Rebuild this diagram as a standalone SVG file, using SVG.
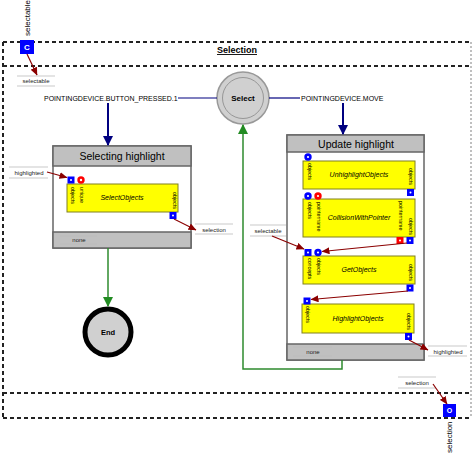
<svg xmlns="http://www.w3.org/2000/svg" width="474" height="454" viewBox="0 0 474 454">
<style>
text{font-family:"Liberation Sans",Arial,sans-serif;fill:#000}
.dash{stroke:#222;stroke-width:2;stroke-dasharray:4 3;fill:none}
.box{fill:#fff;stroke:#666;stroke-width:1.5}
.hdr{fill:#c0c0c0;stroke:#666;stroke-width:1.5}
.title{font-size:10.5px;text-anchor:middle}
.act{fill:#ffff00;stroke:#808020;stroke-width:1}
.actn{font-size:7px;font-style:italic;text-anchor:middle}
.pt{font-size:5.3px}
.lbl{font-size:6px;text-anchor:middle;fill:#222}
.ll{stroke:#bbb;stroke-width:0.8}
.bp{fill:#0000ff}
.rp{fill:#ff0000}
.dot{fill:#fff}
.navy{stroke:#000080;stroke-width:1.2;fill:none}
.navyA{stroke:#000080;stroke-width:2;fill:none}
.red{stroke:#8b0000;stroke-width:1.2;fill:none}
.green{stroke:#2e8b2e;stroke-width:1.5;fill:none}
</style>
<defs>
<marker id="mN" markerWidth="10" markerHeight="10" refX="9" refY="5" orient="auto" markerUnits="userSpaceOnUse"><path d="M0,0 L10,5 L0,10 z" fill="#000080"/></marker>
<marker id="mR" markerWidth="8" markerHeight="7" refX="7.5" refY="3.5" orient="auto" markerUnits="userSpaceOnUse"><path d="M0,0 L8,3.5 L0,7 z" fill="#8b0000"/></marker>
<marker id="mG" markerWidth="10" markerHeight="10" refX="9" refY="5" orient="auto" markerUnits="userSpaceOnUse"><path d="M0,0 L10,5 L0,10 z" fill="#228b22"/></marker>
</defs>

<g id="container">
<path class="dash" d="M3,42 H471 M3,66 H471 M3,393 H471 M3,418 H471 M3,42 V418"/>
<path d="M471,42 V418" stroke="#aaa" stroke-width="1.5" stroke-dasharray="2 2" fill="none"/>
<text x="237" y="53" font-size="9" font-weight="bold" text-anchor="middle" text-decoration="underline">Selection</text>
</g>

<g id="port-in">
<rect class="bp" x="20" y="40" width="14" height="14"/>
<text x="27" y="50" font-size="8" font-weight="bold" text-anchor="middle" style="fill:#fff">C</text>
<text transform="translate(30,36) rotate(-90)" font-size="8">selectable</text>
</g>

<g id="port-out">
<rect class="bp" x="443" y="404" width="13" height="13"/>
<text x="449.5" y="413" font-size="7" font-weight="bold" text-anchor="middle" style="fill:#fff">O</text>
<text transform="translate(452,453) rotate(-90)" font-size="8">selection</text>
</g>

<g id="select">
<circle cx="243" cy="98" r="26" fill="#d0d0d0" stroke="#999" stroke-width="1.5"/>
<circle cx="243" cy="98" r="20.5" fill="none" stroke="#888" stroke-width="0.8"/>
<text x="243" y="101" font-size="8" font-weight="bold" text-anchor="middle">Select</text>
</g>

<g id="end">
<circle cx="108" cy="332" r="23" fill="#d0d0d0" stroke="#000" stroke-width="5"/>
<text x="108" y="335" font-size="7.5" font-weight="bold" text-anchor="middle">End</text>
</g>

<g id="selecting-highlight">
<rect class="box" x="53" y="146" width="138" height="102"/>
<rect class="hdr" x="53" y="146" width="138" height="20"/>
<rect class="hdr" x="53" y="232" width="138" height="16"/>
<text class="title" x="122" y="160">Selecting highlight</text>
<line class="ll" x1="60" y1="236" x2="97" y2="236"/>
<line class="ll" x1="60" y1="244" x2="97" y2="244"/>
<text class="lbl" x="79" y="242">none</text>
<g id="SelectObjects">
<rect class="act" x="67" y="184" width="111" height="28"/>
<text class="actn" x="122" y="200">SelectObjects</text>
<text class="pt" transform="translate(70.5,187) rotate(90)">objects</text>
<text class="pt" transform="translate(79.5,187) rotate(90)">unique</text>
<text class="pt" transform="translate(172.5,192) rotate(90)">objects</text>
<rect class="bp" x="67.5" y="176.5" width="7" height="7"/><circle class="dot" cx="71" cy="180" r="1"/>
<circle class="rp" cx="81" cy="180" r="3.7"/><circle class="dot" cx="81" cy="180" r="1.2"/>
<rect class="bp" x="169.5" y="212" width="7" height="7"/><circle class="dot" cx="173" cy="215.5" r="1"/>
</g>
</g>

<g id="update-highlight">
<rect class="box" x="287" y="135" width="137" height="225"/>
<rect class="hdr" x="287" y="135" width="137" height="17"/>
<rect class="hdr" x="287" y="344" width="137" height="16"/>
<text class="title" x="356" y="147.5">Update highlight</text>
<line class="ll" x1="293" y1="347" x2="332" y2="347"/>
<line class="ll" x1="293" y1="356" x2="332" y2="356"/>
<text class="lbl" x="313" y="354">none</text>
<g id="UnhighlightObjects">
<rect class="act" x="303" y="161" width="112" height="28"/>
<text class="actn" x="359" y="177">UnhighlightObjects</text>
<text class="pt" transform="translate(307.5,163) rotate(90)">objects</text>
<text class="pt" transform="translate(408.5,168) rotate(90)">objects</text>
<circle class="bp" cx="308" cy="157" r="3.7"/><circle class="dot" cx="308" cy="157" r="1.1"/>
<rect class="bp" x="407" y="189" width="7" height="7"/><circle class="dot" cx="410.5" cy="192.5" r="1"/>
</g>
<g id="CollisionWithPointer">
<rect class="act" x="303" y="199" width="112" height="38"/>
<text class="actn" x="359" y="220">CollisionWithPointer</text>
<text class="pt" transform="translate(307.5,202) rotate(90)">objects</text>
<text class="pt" transform="translate(316.5,202) rotate(90)">pointername</text>
<text class="pt" transform="translate(398.5,201) rotate(90)">pointername</text>
<text class="pt" transform="translate(408.5,218) rotate(90)">objects</text>
<circle class="bp" cx="308" cy="196" r="3.7"/><circle class="dot" cx="308" cy="196" r="1.1"/>
<circle class="rp" cx="318" cy="196" r="3.7"/><circle class="dot" cx="318" cy="196" r="1.1"/>
<rect class="rp" x="396.5" y="237" width="7" height="7"/><circle class="dot" cx="400" cy="240.5" r="1"/>
<rect class="bp" x="406.5" y="237" width="7" height="7"/><circle class="dot" cx="410" cy="240.5" r="1"/>
</g>
<g id="GetObjects">
<rect class="act" x="303" y="256" width="112" height="28"/>
<text class="actn" x="359" y="272">GetObjects</text>
<text class="pt" transform="translate(307.5,258) rotate(90)">concepts</text>
<text class="pt" transform="translate(316.5,258) rotate(90)">objects</text>
<text class="pt" transform="translate(408.5,264) rotate(90)">objects</text>
<rect class="bp" x="304.5" y="249" width="7" height="7"/><circle class="dot" cx="308" cy="252.5" r="1"/>
<circle class="bp" cx="318" cy="252.5" r="3.7"/><circle class="dot" cx="318" cy="252.5" r="1.1"/>
<rect class="bp" x="406.5" y="284.5" width="7" height="7"/><circle class="dot" cx="410" cy="288" r="1"/>
</g>
<g id="HighlightObjects">
<rect class="act" x="302" y="304" width="112" height="29"/>
<text class="actn" x="358" y="321">HighlightObjects</text>
<text class="pt" transform="translate(305.5,306) rotate(90)">objects</text>
<text class="pt" transform="translate(406.5,313) rotate(90)">objects</text>
<rect class="bp" x="303.5" y="297.5" width="7" height="7"/><circle class="dot" cx="307" cy="301" r="1"/>
<rect class="bp" x="405" y="333" width="7" height="7"/><circle class="dot" cx="408.5" cy="336.5" r="1"/>
</g>
</g>

<g id="labels">
<line class="ll" x1="17" y1="76" x2="55" y2="76"/><line class="ll" x1="17" y1="86" x2="55" y2="86"/>
<text class="lbl" x="36" y="83">selectable</text>
<line class="ll" x1="9" y1="167" x2="48" y2="167"/><line class="ll" x1="9" y1="178" x2="48" y2="178"/>
<text class="lbl" x="29" y="175">highlighted</text>
<line class="ll" x1="195" y1="224" x2="233" y2="224"/><line class="ll" x1="195" y1="234" x2="233" y2="234"/>
<text class="lbl" x="214" y="231.5">selection</text>
<line class="ll" x1="250" y1="225" x2="286" y2="225"/><line class="ll" x1="250" y1="236" x2="286" y2="236"/>
<text class="lbl" x="268" y="233">selectable</text>
<line class="ll" x1="428" y1="346" x2="467" y2="346"/><line class="ll" x1="428" y1="356" x2="467" y2="356"/>
<text class="lbl" x="448" y="353.5">highlighted</text>
<line class="ll" x1="398" y1="377" x2="436" y2="377"/><line class="ll" x1="398" y1="388" x2="436" y2="388"/>
<text class="lbl" x="417" y="385">selection</text>
<text x="44" y="100.5" font-size="7">POINTINGDEVICE.BUTTON_PRESSED.1</text>
<text x="301" y="100.5" font-size="7">POINTINGDEVICE.MOVE</text>
</g>

<g id="connectors">
<path class="navy" d="M178,98 H217"/>
<path class="navy" d="M269,98 H300"/>
<path class="navyA" d="M108,103 V145" marker-end="url(#mN)"/>
<path class="navyA" d="M343,103 V134" marker-end="url(#mN)"/>
<path class="green" d="M108,248 V306" marker-end="url(#mG)"/>
<path class="green" d="M342,360 V369 H243 V125" marker-end="url(#mG)"/>
<path class="red" d="M27,54 L37,75" marker-end="url(#mR)"/>
<path class="red" d="M47,172 L67,177.5" marker-end="url(#mR)"/>
<path class="red" d="M174,219 L196,230" marker-end="url(#mR)"/>
<path class="red" d="M407,243 L322,251.5" marker-end="url(#mR)"/>
<path class="red" d="M272,236 L304,249" marker-end="url(#mR)"/>
<path class="red" d="M408,291 L311,299.5" marker-end="url(#mR)"/>
<path class="red" d="M409,340 L428,350" marker-end="url(#mR)"/>
<path class="red" d="M433,384 L447,404" marker-end="url(#mR)"/>
</g>
</svg>
